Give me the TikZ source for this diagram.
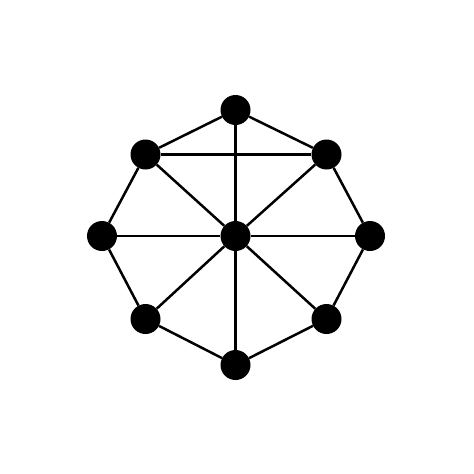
\documentclass[tikz,border=0pt]{standalone}
\begin{document}
\begin{tikzpicture}[x=1pt,y=-1pt,
  dot/.style={circle,fill=black,inner sep=0pt,minimum size=30pt},
  link/.style={line width=2.5pt}]
\useasboundingbox[fill=white] (0,0) rectangle (474,474);
\node[dot] (c) at (235.5,236) {};
\node[dot] (t) at (235.5,110) {};
\node[dot] (b) at (235.5,365) {};
\node[dot] (l) at (102,236) {};
\node[dot] (r) at (370,236) {};
\node[dot] (tl) at (145.5,154.5) {};
\node[dot] (tr) at (326.5,154.5) {};
\node[dot] (bl) at (145.5,319) {};
\node[dot] (br) at (326.5,319) {};
\foreach \a/\b in {t/tr,tr/r,r/br,br/b,b/bl,bl/l,l/tl,tl/t,tl/tr,c/t,c/b,c/l,c/r,c/tl,c/tr,c/bl,c/br}
  \draw[link] (\a) -- (\b);
\end{tikzpicture}
\end{document}
